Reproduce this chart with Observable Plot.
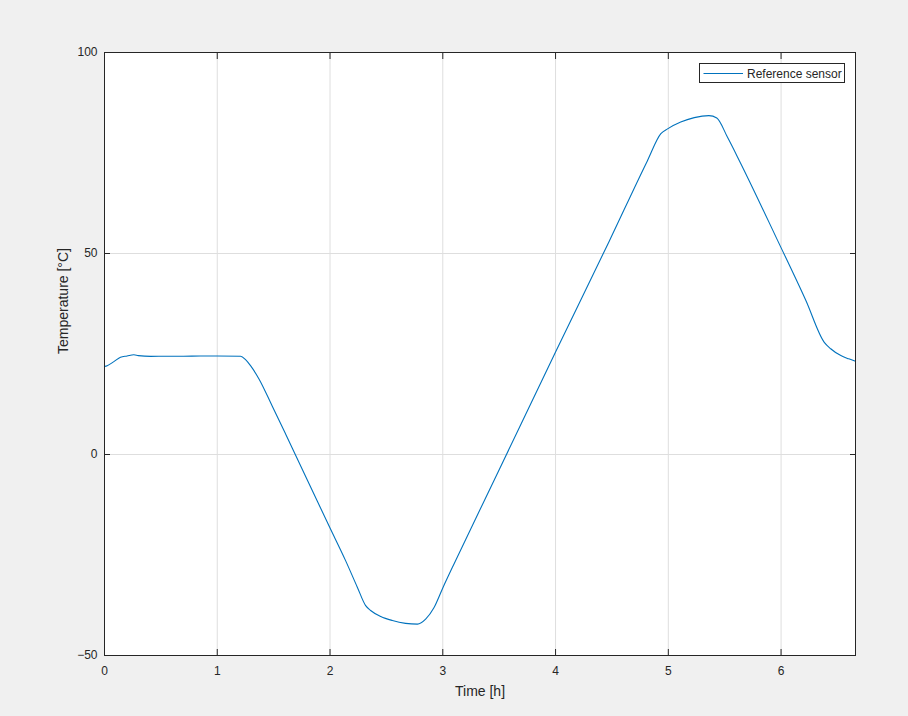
<!DOCTYPE html>
<html>
<head>
<meta charset="utf-8">
<script src="https://cdn.jsdelivr.net/npm/d3@7"></script>
<script src="https://cdn.jsdelivr.net/npm/@observablehq/plot@0.6"></script>
<style>
  html, body { margin: 0; padding: 0; background: #f0f0f0; }
  #chart { width: 908px; height: 716px; }
</style>
</head>
<body>
<div id="chart"></div>
<script>
// ---- data ----
const timeH = [0, 0.024, 0.083, 0.142, 0.20, 0.26, 0.30, 0.41, 0.55, 0.70, 0.85, 1.00, 1.207, 1.251, 1.295, 1.37, 1.488, 1.606, 2.0, 2.138, 2.242, 2.316, 2.36, 2.45, 2.553, 2.67, 2.775, 2.85, 2.92, 3.0, 3.11, 3.5, 4.0, 4.475, 4.815, 4.934, 4.993, 5.11, 5.23, 5.36, 5.43, 5.525, 5.63, 5.97, 6.22, 6.383, 6.44, 6.53, 6.60, 6.66];
const tempC = [21.9, 22.1, 23.1, 24.2, 24.5, 24.8, 24.6, 24.4, 24.45, 24.45, 24.5, 24.5, 24.45, 23.6, 22.1, 18.8, 12.0, 5.1, -18.3, -26.4, -33.0, -37.6, -38.8, -40.3, -41.3, -42.0, -42.2, -40.9, -38.2, -33.2, -26.6, -3.8, 25.5, 53.0, 73.1, 79.8, 81.0, 82.7, 83.8, 84.3, 83.7, 78.9, 73.1, 53.2, 38.3, 27.9, 26.3, 24.6, 23.8, 23.2];
const xTicks = [0, 1, 2, 3, 4, 5, 6];
const yTicks = [-50, 0, 50, 100];
const seriesName = "Reference sensor";
const xLabel = "Time [h]";
const yLabel = "Temperature [°C]";

const data = timeH.map((t, i) => ({t, T: tempC[i]}));

const W = 908, H = 716;
const mL = 104, mR = 53, mT = 52, mB = 61;
const axisColor = "#262626";
const gridColor = "#dedede";
const lineColor = "#0072BD";
const font = "'Liberation Sans', Arial, Helvetica, sans-serif";

const plot = Plot.plot({
  width: W,
  height: H,
  marginLeft: mL,
  marginRight: mR,
  marginTop: mT,
  marginBottom: mB,
  style: { background: "#f0f0f0", fontFamily: font, fontSize: "12px", color: axisColor, overflow: "visible" },
  x: { domain: [0, 6.66], ticks: xTicks },
  y: { domain: [-50, 100], ticks: yTicks },
  marks: [
    Plot.frame({ fill: "white", stroke: null }),
    Plot.gridX(xTicks, { stroke: gridColor, strokeOpacity: 1, strokeWidth: 1 }),
    Plot.gridY(yTicks, { stroke: gridColor, strokeOpacity: 1, strokeWidth: 1 }),
    Plot.line(data, { x: "t", y: "T", stroke: lineColor, strokeWidth: 1.1, curve: "monotone-x" }),
    Plot.frame({ stroke: axisColor, strokeWidth: 1 }),
    Plot.axisX(xTicks, { anchor: "bottom", tickSize: -6, tickPadding: 17, label: null, stroke: axisColor, fill: axisColor, fontSize: 12 }),
    Plot.axisX(xTicks, { anchor: "top", tickSize: -6, tickPadding: 0, label: null, tickFormat: () => "", stroke: axisColor }),
    Plot.axisY(yTicks, { anchor: "left", tickSize: -6, tickPadding: 13, label: null, stroke: axisColor, fill: axisColor, fontSize: 12 }),
    Plot.axisY(yTicks, { anchor: "right", tickSize: -6, tickPadding: 0, label: null, tickFormat: () => "", stroke: axisColor }),
    Plot.text([xLabel], { frameAnchor: "bottom", dy: 36, text: d => d, fill: axisColor, fontSize: 14, lineAnchor: "middle" }),
    Plot.text([yLabel], { frameAnchor: "left", dx: -41, rotate: -90, text: d => d, fill: axisColor, fontSize: 14, lineAnchor: "middle" })
  ]
});

// legend box inside the axes, top-right
const svg = d3.select(plot);
const legW = 145, legH = 19;
const legX = W - mR - 10.5 - legW, legY = mT + 11.5;
const g = svg.append("g").attr("class", "legend").attr("text-anchor", "start");
g.append("rect").attr("x", legX).attr("y", legY).attr("width", legW).attr("height", legH)
  .attr("fill", "white").attr("stroke", axisColor).attr("stroke-width", 1);
g.append("path").attr("d", `M${legX + 4},${legY + 10}H${legX + 43.5}`)
  .attr("fill", "none").attr("stroke", lineColor).attr("stroke-width", 1.1);
g.append("text").attr("x", legX + 47.5).attr("y", legY + 10).attr("dy", "0.35em")
  .attr("text-anchor", "start")
  .attr("fill", axisColor).attr("font-size", 12).attr("font-family", font).text(seriesName);

document.getElementById("chart").appendChild(plot);
</script>
</body>
</html>
